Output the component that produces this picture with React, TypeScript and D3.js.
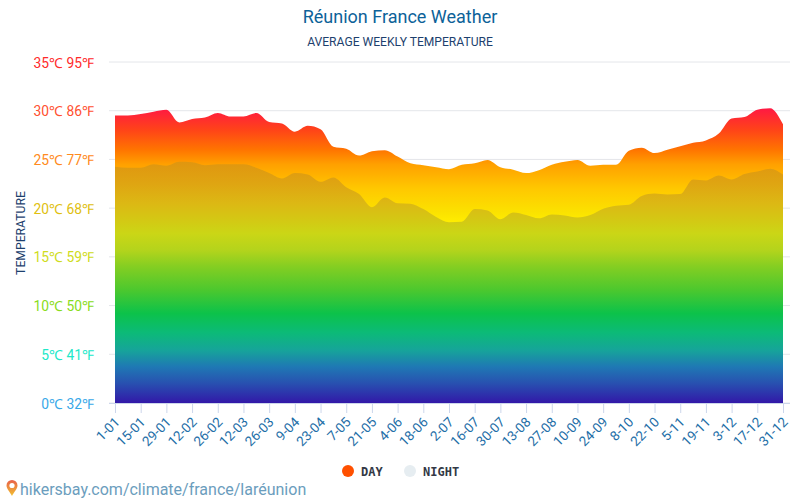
import React, { useEffect, useRef } from 'react';
import * as d3 from 'd3';

const weeks = ['1-01','8-01','15-01','22-01','29-01','5-02','12-02','19-02','26-02','5-03','12-03','19-03','26-03','2-04','9-04','16-04','23-04','30-04','7-05','14-05','21-05','28-05','4-06','11-06','18-06','25-06','2-07','9-07','16-07','23-07','30-07','6-08','13-08','20-08','27-08','3-09','10-09','17-09','24-09','1-10','8-10','15-10','22-10','29-10','5-11','12-11','19-11','26-11','3-12','10-12','17-12','24-12','31-12'];
const dayTemps = [29.5,29.5,29.65,29.9,30.1,28.8,29.15,29.3,29.77,29.4,29.4,29.77,28.85,28.7,27.85,28.45,28.1,26.3,26.1,25.4,25.85,25.95,25.3,24.6,24.4,24.2,24.0,24.45,24.6,24.95,24.2,23.95,23.6,23.9,24.45,24.75,24.95,24.35,24.45,24.45,25.9,26.2,25.65,26.0,26.35,26.7,26.95,27.65,29.2,29.35,30.1,30.25,28.6];
const nightTemps = [24.25,24.15,24.15,24.5,24.35,24.75,24.7,24.4,24.5,24.5,24.5,24.15,23.6,23.05,23.6,23.45,22.7,23.15,22.15,21.45,20.1,21.1,20.5,20.45,19.9,19.1,18.55,18.6,19.9,19.75,18.85,19.55,19.3,18.95,19.35,19.25,19.05,19.3,19.95,20.25,20.35,21.25,21.5,21.4,21.45,22.95,22.85,23.35,22.95,23.5,23.75,24.05,23.45];
const tempTicks = [0,5,10,15,20,25,30,35];
const tempTickColors = ['#38a8e8','#20e8c8','#88dc20','#cfdc20','#e0c010','#ff8a20','#ff5030','#ff2a2a'];
// colour stops keyed by temperature
const dayStops: [number, string][] = [
  [30.3,'#ff1744'],[28,'#ff4418'],[26,'#ff7400'],[24.5,'#ffa000'],[22,'#ffc800'],[19.5,'#fbe300'],[18.5,'#ffee00'],
];
const nightStops: [number, string][] = [
  [25,'#e0940f'],[22.5,'#dfa512'],[20.5,'#dcb814'],[18.5,'#d2cb14'],[17.4,'#cbd616'],[15.7,'#b4d41c'],[14,'#84ce22'],[11.6,'#4cc82e'],[9.2,'#0cc24a'],[7.2,'#0cba78'],[5.4,'#16a49a'],[3.7,'#1f78b4'],[2,'#2850b0'],[0,'#3218a8'],
];

const App: React.FC = () => {
  const svgRef = useRef<SVGSVGElement>(null);
  useEffect(() => {
    const svg = d3.select(svgRef.current);
    svg.selectAll('*').remove();
    const font = 'Roboto, sans-serif';

    const x = d3.scalePoint<string>().domain(weeks).range([115, 783]);
    const y = d3.scaleLinear().domain([0, 35]).range([403, 62]);

    const defs = svg.append('defs');
    const addGrad = (id: string, stops: [number, string][]) => {
      const top = stops[0][0];
      const bottom = stops[stops.length - 1][0];
      const g = defs.append('linearGradient').attr('id', id)
        .attr('gradientUnits', 'userSpaceOnUse')
        .attr('x1', 0).attr('x2', 0).attr('y1', y(top)).attr('y2', y(bottom));
      stops.forEach(([t, c]) => g.append('stop').attr('offset', (top - t) / (top - bottom)).attr('stop-color', c));
    };
    addGrad('dayGrad', dayStops);
    addGrad('nightGrad', nightStops);
    const pinGrad = defs.append('linearGradient').attr('id', 'pinGrad').attr('x1', 0).attr('x2', 0).attr('y1', 0).attr('y2', 1);
    pinGrad.append('stop').attr('offset', 0).attr('stop-color', '#e8604a');
    pinGrad.append('stop').attr('offset', 1).attr('stop-color', '#f2c030');

    // grid
    svg.append('g').selectAll('line').data(tempTicks).enter().append('line')
      .attr('x1', 109).attr('x2', 790)
      .attr('y1', d => y(d)).attr('y2', d => y(d))
      .attr('stroke', '#e4e6ea').attr('stroke-width', 1);

    const area = (vals: number[]) => d3.area<number>()
      .x((_, i) => x(weeks[i])!)
      .y0(y(0))
      .y1(d => y(d))
      .curve(d3.curveMonotoneX)(vals);

    svg.append('path').attr('d', area(dayTemps)).attr('fill', 'url(#dayGrad)');
    svg.append('path').attr('d', area(nightTemps)).attr('fill', 'url(#nightGrad)');

    // y labels
    svg.append('g').selectAll('text').data(tempTicks).enter().append('text')
      .attr('x', 94).attr('y', d => y(d) + 5.5)
      .attr('text-anchor', 'end')
      .attr('font-family', font).attr('font-size', 13.8)
      .attr('fill', (_, i) => tempTickColors[i])
      .text(d => `${d}℃ ${Math.round(d * 1.8 + 32)}℉`);

    // x axis
    const tickWeeks = weeks.filter((_, i) => i % 2 === 0);
    const xAxis = svg.append('g').attr('transform', `translate(0,${y(0)})`)
      .call(d3.axisBottom(x).tickValues(tickWeeks).tickSize(10).tickSizeOuter(0));
    xAxis.select('.domain').attr('stroke', '#ccd6eb').attr('d', 'M109,0.5H790');
    xAxis.selectAll('.tick line').attr('stroke', '#ccd6eb');
    xAxis.selectAll('.tick text')
      .attr('font-family', font).attr('font-size', 13.5)
      .attr('fill', '#1f6fa8')
      .attr('text-anchor', 'end')
      .attr('x', 0).attr('y', 0).attr('dy', 0)
      .attr('transform', 'translate(5,20) rotate(-45)');

    svg.append('text').attr('x', 400).attr('y', 23).attr('text-anchor', 'middle')
      .attr('font-family', font).attr('font-size', 18).attr('fill', '#0d6299')
      .text('Réunion France Weather');
    svg.append('text').attr('x', 400).attr('y', 46).attr('text-anchor', 'middle')
      .attr('font-family', font).attr('font-size', 12.1).attr('fill', '#1d3f6e')
      .text('AVERAGE WEEKLY TEMPERATURE');
    svg.append('text').attr('transform', 'translate(25,233) rotate(-90)').attr('text-anchor', 'middle')
      .attr('font-family', font).attr('font-size', 12.2).attr('fill', '#1d3f6e')
      .text('TEMPERATURE');

    // legend
    svg.append('circle').attr('cx', 348).attr('cy', 471).attr('r', 6).attr('fill', '#ff5000');
    svg.append('text').attr('x', 361).attr('y', 476)
      .attr('font-family', '"DejaVu Sans Mono", monospace').attr('font-weight', 'bold').attr('font-size', 12).attr('fill', '#333945')
      .text('DAY');
    svg.append('circle').attr('cx', 410).attr('cy', 471).attr('r', 6).attr('fill', '#e6edf1');
    svg.append('text').attr('x', 423).attr('y', 476)
      .attr('font-family', '"DejaVu Sans Mono", monospace').attr('font-weight', 'bold').attr('font-size', 12).attr('fill', '#333945')
      .text('NIGHT');

    // watermark with pin
    const pin = svg.append('g').attr('transform', 'translate(12,488)');
    pin.append('path').attr('d', 'M0,8 C-2,4 -5.5,1 -5.5,-2.5 A5.5,5.5 0 1 1 5.5,-2.5 C5.5,1 2,4 0,8 Z').attr('fill', 'url(#pinGrad)');
    pin.append('circle').attr('cy', -2.5).attr('r', 2.6).attr('fill', '#fff');
    svg.append('text').attr('x', 20).attr('y', 495)
      .attr('font-family', font).attr('font-size', 16).attr('fill', '#6b9dbd')
      .text('hikersbay.com/climate/france/laréunion');
  }, []);

  return <svg ref={svgRef} width={800} height={500} style={{ position: 'absolute', left: 0, top: 0, background: '#fff' }}></svg>;
};

export default App;
